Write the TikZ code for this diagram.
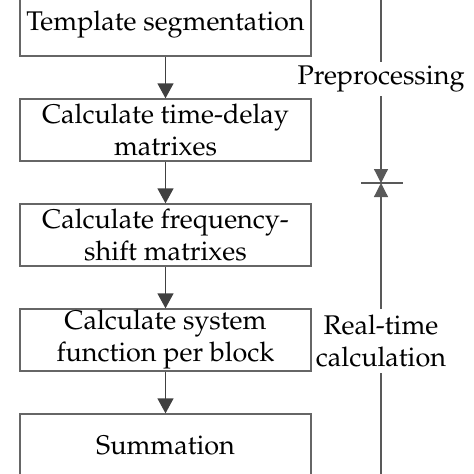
\documentclass[tikz,border=0pt]{standalone}
\usepackage[T1]{fontenc}
\usepackage{mathpazo}
\usetikzlibrary{arrows.meta,positioning}

\begin{document}
\begin{tikzpicture}[x=1pt,y=-1pt,node distance=105pt,on grid,
  every node/.style={font=\fontsize{27}{32}\selectfont,align=center},
  block/.style={draw=black!60,line width=1.3pt,minimum width=291pt,minimum height=62pt,inner sep=0pt},
  flow/.style={-{Triangle[width=16pt,length=15pt]},draw=black!75,line width=1.3pt},
  span/.style={-{Triangle[width=14pt,length=14pt]},draw=black!65,line width=1.2pt},
  phase/.style={inner sep=0pt,minimum height=34pt}]
  \useasboundingbox (0,0) rectangle (474,474);
  \node[block] (seg) at (165.5,25) {Template segmentation};
  \node[block] (delay) [below = of seg] {Calculate time-delay\\matrixes};
  \node[block] (shift) [below = of delay] {Calculate frequency-\\shift matrixes};
  \node[block] (sys) [below = of shift] {Calculate system\\function per block};
  \node[block] (sum) [below = of sys] {Summation};
  \draw[flow] (seg) -- (delay);
  \draw[flow] (delay) -- (shift);
  \draw[flow] (shift) -- (sys);
  \draw[flow] (sys) -- (sum);
  % phases on the right
  \coordinate (top) at (381,-5);
  \coordinate (mid) at (381,183);
  \coordinate (bot) at (381,480);
  \node[phase] (pre) at (381,79) {Preprocessing};
  \node[phase,minimum height=64pt] (real) at (381,341) {Real-time\\calculation};
  \draw[draw=black!65,line width=1.2pt] (top) -- (pre);
  \draw[span] (pre) -- (mid);
  \draw[span] (real) -- (mid);
  \draw[draw=black!65,line width=1.2pt] (real) -- (bot);
  \draw[draw=black!65,line width=1.2pt] ([xshift=-20pt]mid) -- ([xshift=22pt]mid);
\end{tikzpicture}
\end{document}
